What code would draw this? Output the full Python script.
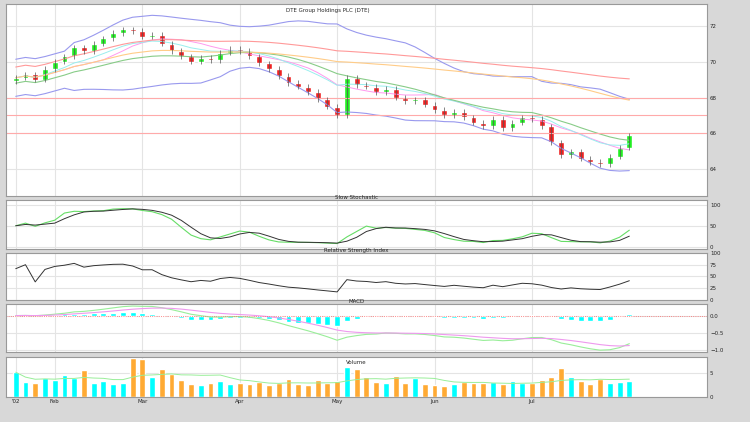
import numpy as np, pandas as pd, matplotlib
matplotlib.use("Agg")
import matplotlib.pyplot as plt, seaborn as sns

sns.set_style("whitegrid")
plt.rcParams['font.family'] = ['DejaVu Sans']

closes = [69.1,69.3,69.0,69.6,70.0,70.3,70.8,70.6,71.0,71.3,71.6,71.8,
          71.7,71.4,71.5,71.0,70.6,70.3,70.0,
          70.2,70.1,70.5,70.7,70.6,
          70.3,69.9,69.6,69.2,68.8,68.6,68.3,67.9,67.5,67.0,
          69.1,
          68.7,68.6,68.3,68.5,68.0,67.8,67.9,67.6,
          67.3,67.0,67.2,66.9,
          66.6,66.4,66.8,66.3,66.6,
          66.9,66.8,66.4,
          65.5,64.8,65.0,64.6,
          64.4,64.3,64.7,65.2,65.9]
volumes = [5.2,3.1,2.8,4.0,3.5,4.6,3.9,5.6,2.9,3.3,2.6,3.0,
           8.1,7.9,4.2,5.8,4.9,3.6,2.7,2.5,2.8,3.4,2.6,3.0,
           2.7,3.1,2.5,2.9,3.8,2.6,2.4,3.5,3.0,3.3,
           6.4,5.9,4.1,3.2,2.8,4.4,3.0,3.9,2.6,
           2.4,2.2,2.7,3.2,3.0,2.9,3.1,2.6,3.4,
           3.0,2.8,3.6,4.1,6.0,4.2,3.3,2.7,3.8,2.9,3.2,3.4]
month_labels = ["'02","Feb","Mar","Apr","May","Jun","Jul"]
month_pos = [0,4,13,23,33,43,53]

c = pd.Series(closes)
o = c.shift(1).fillna(c.iloc[0]-0.2)
n = len(c); x = np.arange(n)
hi = np.maximum(o, c) + 0.15; lo = np.minimum(o, c) - 0.15

fig = plt.figure(figsize=(7.5,4.22), dpi=100, facecolor='#d8d8d8')
L, W = 0.008, 0.935
axs = [fig.add_axes([L,y,W,h]) for y,h in [(0.535,0.455),(0.41,0.115),(0.29,0.11),(0.165,0.115),(0.06,0.095)]]
for a in axs:
    a.set_facecolor('white'); a.grid(True, color='#e4e4e4', lw=0.8)
    a.set_xlim(-1, n+7); a.yaxis.tick_right(); a.tick_params(labelsize=4, length=0, pad=2)
    a.set_xticks(month_pos); a.set_xticklabels([])
    for s in a.spines.values(): s.set_color('#999')

ax = axs[0]
sma20 = c.rolling(20, min_periods=1).mean()
sd = c.rolling(20, min_periods=6).std().bfill()
ax.plot(x, sma20+2*sd, color='#9999ee', lw=0.8); ax.plot(x, sma20-2*sd, color='#9999ee', lw=0.8)
ax.plot(x, c.rolling(10, min_periods=1).mean(), color='#ff99ee', lw=0.7)
ax.plot(x, c.ewm(span=12).mean(), color='#99eeee', lw=0.7)
ax.plot(x, c.rolling(20, min_periods=1).mean()-0.3, color='#88cc88', lw=0.8)
ax.plot(x, c.rolling(50, min_periods=1).mean(), color='#ffcc88', lw=0.8)
ax.plot(x, c.rolling(100, min_periods=1).mean()+0.6, color='#ff9999', lw=0.8)
for lvl in [67.0, 68.0, 66.0]:
    ax.axhline(lvl, color='#ffaaaa', lw=0.8)
cols = np.where(c >= o, '#22ee22', '#ee2222')
ax.vlines(x, lo, hi, color='#555', lw=0.5)
ax.bar(x, (c-o).abs().clip(lower=0.08), bottom=np.minimum(o,c), color=cols, width=0.6)
ax.set_ylim(62.5, 73.2)
ax.text(n/2, 73.0, 'DTE Group Holdings PLC (DTE)', fontsize=4, ha='center', va='top')

low14 = c.rolling(14, min_periods=1).min()-0.3; high14 = c.rolling(14, min_periods=1).max()+0.3
k = ((c-low14)/(high14-low14)*100).rolling(3, min_periods=1).mean()
axs[1].plot(x, k, color='#66dd66', lw=0.8); axs[1].plot(x, k.rolling(3, min_periods=1).mean(), color='#333', lw=0.7)
axs[1].set_ylim(-5,110); axs[1].set_title('Slow Stochastic', fontsize=4, pad=-5)

d = c.diff().fillna(0.1)
up = d.clip(lower=0).ewm(alpha=1/14).mean(); dn = (-d.clip(upper=0)).ewm(alpha=1/14).mean() + 0.05
rsi = 100 - 100/(1 + up/dn)
axs[2].plot(x, rsi, color='#333', lw=0.7); axs[2].set_ylim(0,100)
axs[2].set_title('Relative Strength Index', fontsize=4, pad=-5)

macd = c.ewm(span=12).mean() - c.ewm(span=26).mean(); sig = macd.ewm(span=9).mean()
axs[3].plot(x, macd, color='#99ee99', lw=0.8); axs[3].plot(x, sig, color='#ee99ee', lw=0.8)
axs[3].bar(x, (macd-sig), color='cyan', width=0.6)
axs[3].axhline(0, color='#ff6666', lw=0.6, ls=':')
axs[3].set_title('MACD', fontsize=4, pad=-5)

vc = np.where(c >= o, 'cyan', '#ffaa33')
axs[4].bar(x, volumes, color=vc, width=0.6)
axs[4].plot(x, pd.Series(volumes).rolling(10, min_periods=1).mean(), color='#99ee99', lw=0.7)
axs[4].set_title('Volume', fontsize=4, pad=-5)
axs[4].set_xticklabels(month_labels, fontsize=4)
fig.savefig('out.png', dpi=100, facecolor=fig.get_facecolor())
